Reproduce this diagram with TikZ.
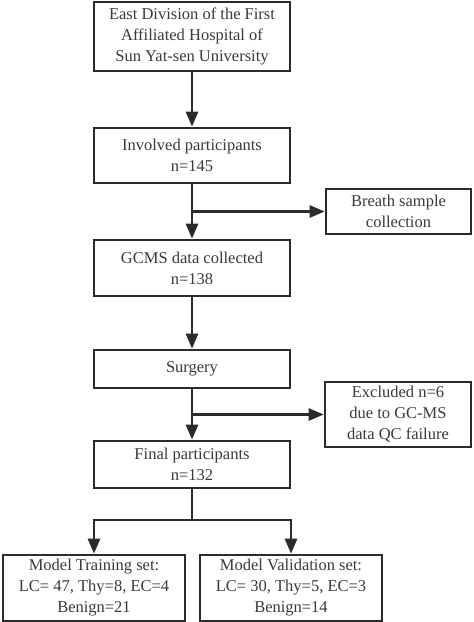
\documentclass[tikz,border=0pt]{standalone}
\usepackage{fontspec}
\setmainfont{Liberation Serif}
\usetikzlibrary{arrows.meta}
\definecolor{ink}{HTML}{2B2B2B}
\definecolor{txt}{HTML}{3A3A3A}
\begin{document}
\begin{tikzpicture}[x=1pt,y=-1pt,
    box/.style={draw=ink,line width=2.6pt,fill=white,text=txt,align=center,
        inner sep=0pt,font=\fontsize{16.5}{21}\selectfont},
    arr/.style={draw=ink,line width=2.6pt,-{Triangle[length=15pt,width=12pt]}},
    ln/.style={draw=ink,line width=2.6pt}]
    \useasboundingbox (0,0) rectangle (474,622);
    \node [box,minimum width=196pt,minimum height=69pt] (hosp) at (192,36.5)
        {East Division of the First\\Affiliated Hospital of\\Sun Yat-sen University};
    \node [box,minimum width=196pt,minimum height=55pt] (inv) at (192,155.5)
        {Involved participants\\n=145};
    \node [box,minimum width=145pt,minimum height=45pt] (breath) at (398.5,211.5)
        {Breath sample\\collection};
    \node [box,minimum width=196pt,minimum height=56pt] (gcms) at (192,268)
        {GCMS data collected\\n=138};
    \node [box,minimum width=196pt,minimum height=38pt] (surg) at (192,369)
        {Surgery};
    \node [box,minimum width=146pt,minimum height=65pt] (excl) at (398,414.5)
        {Excluded n=6\\due to GC-MS\\data QC failure};
    \node [box,minimum width=196pt,minimum height=47pt] (final) at (192,464.5)
        {Final participants\\n=132};
    \node [box,minimum width=182pt,minimum height=66pt] (train) at (94,588)
        {Model Training set:\\LC= 47, Thy=8, EC=4\\Benign=21};
    \node [box,minimum width=182pt,minimum height=66pt] (valid) at (291,588)
        {Model Validation set:\\LC= 30, Thy=5, EC=3\\Benign=14};
    \coordinate (split) at (192,520);
    \draw [arr] (hosp) -- (inv);
    \draw [arr] (inv) -- (gcms);
    \draw [arr] (inv.south |- breath.west) -- (breath.west);
    \draw [arr] (gcms) -- (surg);
    \draw [arr] (surg) -- (final);
    \draw [arr] (surg.south |- excl.west) -- (excl.west);
    \draw [ln] (final) -- (split);
    \draw [arr] (split) -| (train);
    \draw [arr] (split) -| (valid);
\end{tikzpicture}
\end{document}
